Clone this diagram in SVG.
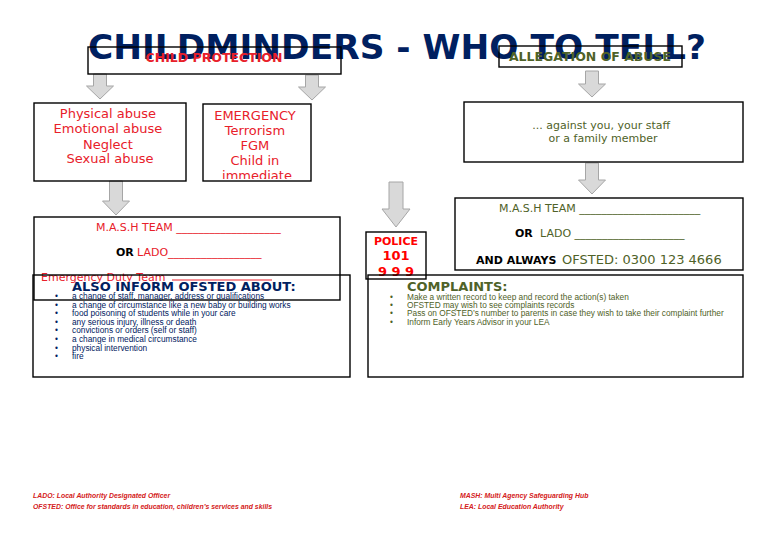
<svg xmlns="http://www.w3.org/2000/svg" width="768" height="543" viewBox="0 0 768 543">
<style>
.box{fill:none;stroke:#000;stroke-width:1.4}
.arrow{fill:#D9D9D9;stroke:#A6A6A6;stroke-width:1}
.dv{font-family:"DejaVu Sans",Verdana,sans-serif}
.b{font-weight:bold}
.red{fill:#E8202A}
.brd{fill:#FF0000}
.grn{fill:#4F6228}
.nav{fill:#002060}
.blk{fill:#000}
.list{font-family:"Liberation Sans",Arial,sans-serif;font-size:8.3px}
.foot{font-family:"Liberation Sans",Arial,sans-serif;font-size:6.9px;font-weight:bold;font-style:italic;fill:#D42020}
</style>
<defs>
<clipPath id="clipEm"><rect x="203" y="104" width="108" height="75"/></clipPath>
</defs>
<rect width="768" height="543" fill="#fff"/>

<g id="title">
<text x="397" y="59" text-anchor="middle" class="dv b nav" font-size="34.4">CHILDMINDERS - WHO TO TELL?</text>
</g>

<g id="connectors">
<polygon class="arrow" points="93.5,74 106.5,74 106.5,86 113.5,86 100,99 86.5,86 93.5,86"/>
<polygon class="arrow" points="305.5,75 318.5,75 318.5,87 325.5,87 312,100 298.5,87 305.5,87"/>
<polygon class="arrow" points="109.5,181 122.5,181 122.5,201 129.5,201 116,215 102.5,201 109.5,201"/>
<polygon class="arrow" points="389,182 403,182 403,209 410,209 396,227 382,209 389,209"/>
<polygon class="arrow" points="585.5,71 598.5,71 598.5,84 605.5,84 592,97 578.5,84 585.5,84"/>
<polygon class="arrow" points="585.5,163 598.5,163 598.5,180 605.5,180 592,194 578.5,180 585.5,180"/>
</g>

<g id="child-protection">
<rect class="box" x="88" y="47" width="253" height="27"/>
<text x="214" y="62" text-anchor="middle" class="dv b red" font-size="12.5">CHILD PROTECTION</text>
</g>

<g id="allegation">
<rect class="box" x="499" y="46" width="183" height="21"/>
<text x="590" y="61" text-anchor="middle" class="dv b grn" font-size="12.5">ALLEGATION OF ABUSE</text>
</g>

<g id="abuse-types">
<rect class="box" x="34" y="103" width="152" height="78"/>
<text class="dv red" font-size="13" text-anchor="middle">
<tspan x="110" y="118">Physical abuse</tspan>
<tspan x="110" y="133">Emotional abuse</tspan>
<tspan x="110" y="149">Neglect</tspan>
<tspan x="110" y="163">Sexual abuse</tspan>
</text>
</g>

<g id="emergency">
<rect class="box" x="203" y="104" width="108" height="77"/>
<text class="dv red" font-size="13" text-anchor="middle" clip-path="url(#clipEm)">
<tspan x="257" y="120">EMERGENCY</tspan>
<tspan x="257" y="135">Terrorism</tspan>
<tspan x="257" y="150">FGM</tspan>
<tspan x="257" y="165">Child in</tspan>
<tspan x="257" y="180">immediate</tspan>
</text>
</g>

<g id="against">
<rect class="box" x="464" y="102" width="279" height="60"/>
<text class="dv grn" font-size="11" text-anchor="middle">
<tspan x="603" y="129">... against you, your staff</tspan>
<tspan x="603" y="142">or a family member</tspan>
</text>
</g>

<g id="mash-left">
<rect class="box" x="34" y="217" width="306" height="83"/>
<text x="96" y="231" class="dv red" font-size="11">M.A.S.H TEAM ___________________</text>
<text x="116" y="256" class="dv b blk" font-size="11">OR</text>
<text x="137" y="256" class="dv red" font-size="11">LADO_________________</text>
<text x="41" y="281" class="dv red" font-size="11">Emergency Duty Team</text>
<line x1="172" y1="280" x2="272" y2="280" stroke="#E8202A" stroke-width="1"/>
</g>

<g id="police">
<rect class="box" x="366" y="232" width="60" height="47"/>
<text x="396" y="245" text-anchor="middle" class="dv b brd" font-size="11">POLICE</text>
<text x="396" y="260" text-anchor="middle" class="dv b brd" font-size="13">101</text>
<text x="396" y="276" text-anchor="middle" class="dv b brd" font-size="13">9 9 9</text>
</g>

<g id="mash-right">
<rect class="box" x="455" y="198" width="288" height="72" stroke-width="1.6"/>
<text x="499" y="212" class="dv grn" font-size="11">M.A.S.H TEAM ______________________</text>
<text x="515" y="237" class="dv b blk" font-size="11">OR</text>
<text x="540" y="237" class="dv grn" font-size="11">LADO ____________________</text>
<text x="476" y="264" class="dv b blk" font-size="11">AND ALWAYS</text>
<text x="562" y="264" class="dv grn" font-size="13">OFSTED:  0300 123 4666</text>
</g>

<g id="inform-ofsted">
<rect class="box" x="33" y="275" width="317" height="102" stroke-width="1.6"/>
<text x="72" y="291" class="dv b nav" font-size="13">ALSO INFORM OFSTED ABOUT:</text>
<g class="list nav">
<text x="55" y="299">•</text><text x="72" y="299">a change of staff, manager, address or qualifications</text>
<text x="55" y="308">•</text><text x="72" y="308">a change of circumstance like a new baby or building works</text>
<text x="55" y="316">•</text><text x="72" y="316">food poisoning of students while in your care</text>
<text x="55" y="325">•</text><text x="72" y="325">any serious injury, illness or death</text>
<text x="55" y="333">•</text><text x="72" y="333">convictions or orders (self or staff)</text>
<text x="55" y="342">•</text><text x="72" y="342">a change in medical circumstance</text>
<text x="55" y="351">•</text><text x="72" y="351">physical intervention</text>
<text x="55" y="359">•</text><text x="72" y="359">fire</text>
</g>
</g>

<g id="complaints">
<rect class="box" x="368" y="275" width="375" height="102" stroke-width="1.6"/>
<text x="407" y="291" class="dv b grn" font-size="13">COMPLAINTS:</text>
<g class="list grn">
<text x="390" y="300">•</text><text x="407" y="300">Make a written record to keep and record the action(s) taken</text>
<text x="390" y="308">•</text><text x="407" y="308">OFSTED may wish to see complaints records</text>
<text x="390" y="316">•</text><text x="407" y="316">Pass on OFSTED’s number to parents in case they wish to take their complaint further</text>
<text x="390" y="325">•</text><text x="407" y="325">Inform Early Years Advisor in your LEA</text>
</g>
</g>

<g id="footer">
<text x="33" y="498" class="foot">LADO:  Local Authority Designated Officer</text>
<text x="33" y="509" class="foot">OFSTED: Office for standards in education, children’s services and skills</text>
<text x="460" y="498" class="foot">MASH:  Multi Agency Safeguarding Hub</text>
<text x="460" y="509" class="foot">LEA:  Local Education Authority</text>
</g>
</svg>
